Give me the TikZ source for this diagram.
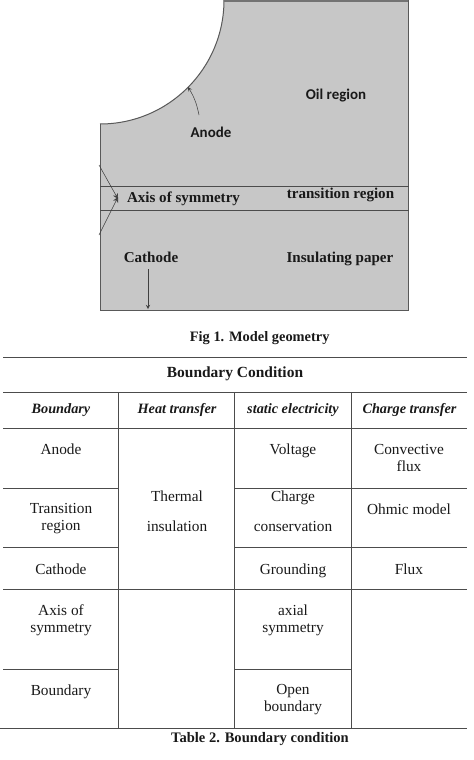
\documentclass[tikz,border=0pt]{standalone}
\usepackage{fontspec}
\usetikzlibrary{arrows.meta}
\setmainfont{Liberation Serif}
\newfontfamily\labelfont{Carlito}
\tikzset{
    plaintext/.style={inner sep=0pt, text=black!90, execute at begin node=\strut, execute at end node=\strut},
    cell/.style={plaintext, align=center, font=\fontsize{11.5}{13}\selectfont},
    headcell/.style={plaintext, font=\fontsize{10.7}{13}\selectfont\bfseries\itshape},
    caption/.style={plaintext, font=\fontsize{10.8}{13}\selectfont\bfseries},
    region/.style={plaintext, font=\fontsize{11.3}{13}\selectfont\bfseries},
    sanslabel/.style={plaintext, font=\labelfont\fontsize{11.2}{13}\selectfont\bfseries},
    rule/.style={draw=black!70, line width=0.75pt},
    leader/.style={draw=black!75, line width=0.4pt, -stealth},
    blunt/.style={draw=black!75, line width=0.4pt, -{Stealth[length=4pt, width=4pt]}}
}
\begin{document}
\begin{tikzpicture}[x=0.75pt, y=-0.75pt]
    \useasboundingbox (0, 0) rectangle (474, 760);

    \fill[black!22] (100, 124) arc (-90:0:124 and -124) -- (408, 0) -- (408, 310) -- (100, 310) -- cycle;
    \draw[black!65, line width=0.75pt] (100, 124) arc (-90:0:124 and -124);
    \draw[black!55, line width=1.5pt] (224, 1) -- (408, 1);
    \draw[black!65, line width=0.75pt] (408, 0) -- (408, 310) -- (100, 310) -- (100, 124);
    \draw[black!70, line width=0.6pt] (100, 186) -- (409, 186);
    \draw[black!70, line width=0.6pt] (100, 210.5) -- (409, 210.5);

    \node[sanslabel] (oilregion) at (336, 95.8) {Oil region};
    \node[sanslabel] (anodelabel) at (211, 134.5) {Anode};
    \node[region] (axislabel) at (183.5, 199) {Axis of symmetry};
    \node[region] (transitionlabel) at (340.5, 195) {transition region};
    \node[region] (cathodelabel) at (151, 259) {Cathode};
    \node[region] (paperlabel) at (340, 259) {Insulating paper};
    \node[caption] (figcaption) at (259.7, 338.5) {Fig 1. Model geometry};

    \coordinate (anodetail) at (199, 115);
    \coordinate (anodetip) at (188, 87);
    \coordinate (axistop) at (99, 165);
    \coordinate (axisbottom) at (99, 235);
    \coordinate (axistip) at (118, 199);
    \coordinate (axistipb) at (118, 197);
    \coordinate (cathodetail) at (148, 269);
    \coordinate (cathodetip) at (148, 309);
    \draw[leader] (anodetail) to[bend right=10] (anodetip);
    \draw[blunt] (axistop) -- (axistip);
    \draw[blunt] (axisbottom) -- (axistipb);
    \draw[leader] (cathodetail) -- (cathodetip);

    \draw[rule] (3, 357) -- (467, 357);
    \draw[rule] (3, 392) -- (467, 392);
    \draw[rule] (3, 428) -- (467, 428);
    \draw[rule] (3, 488) -- (118.5, 488);
    \draw[rule] (234.5, 488) -- (467, 488);
    \draw[rule] (3, 547) -- (118.5, 547);
    \draw[rule] (234.5, 547) -- (467, 547);
    \draw[rule] (3, 589) -- (467, 589);
    \draw[rule] (3, 669) -- (118.5, 669);
    \draw[rule] (234.5, 669) -- (351, 669);
    \draw[rule] (0, 728) -- (467, 728);
    \foreach \x in {118.5, 234.5, 351} {
        \draw[rule] (\x, 392) -- (\x, 728);
    }

    \node[caption, font=\fontsize{11.6}{13}\selectfont\bfseries] (tabletitle) at (235, 374) {Boundary Condition};
    \node[headcell] (headboundary) at (61, 410) {Boundary};
    \node[headcell] (headheat) at (177, 410) {Heat transfer};
    \node[headcell] (headstatic) at (293, 410) {static electricity};
    \node[headcell] (headcharge) at (409.5, 410) {Charge transfer};

    \node[cell] (anode) at (61, 451.3) {Anode};
    \node[cell] (voltage) at (293, 451.3) {Voltage};
    \node[cell] (convective) at (409, 460.2) {Convective\\flux};
    \node[cell] (transition) at (61, 519.3) {Transition\\region};
    \node[cell] (thermal) at (177, 513.6) {Thermal\\[9.3pt]insulation};
    \node[cell] (charge) at (293, 513.6) {Charge\\[9.3pt]conservation};
    \node[cell] (ohmic) at (409, 511) {Ohmic model};
    \node[cell] (cathode) at (61, 570.8) {Cathode};
    \node[cell] (grounding) at (293, 570.8) {Grounding};
    \node[cell] (flux) at (409, 570.8) {Flux};
    \node[cell] (axis) at (61, 621.3) {Axis of\\symmetry};
    \node[cell] (axial) at (293, 621.3) {axial\\symmetry};
    \node[cell] (boundary) at (61, 692) {Boundary};
    \node[cell] (open) at (293, 700.8) {Open\\boundary};
    \node[caption, font=\fontsize{10.9}{13}\selectfont\bfseries] (tablecaption) at (260, 738.8) {Table 2. Boundary condition};
\end{tikzpicture}
\end{document}
